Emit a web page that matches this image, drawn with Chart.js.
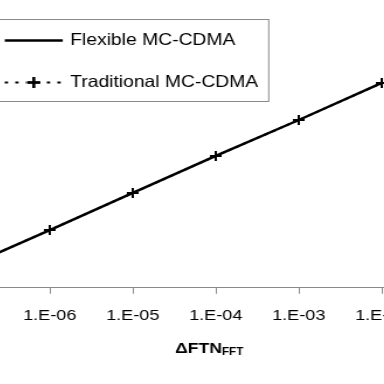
<!DOCTYPE html>
<html>
<head>
<meta charset="utf-8">
<script src="https://cdn.jsdelivr.net/npm/chart.js@4/dist/chart.umd.min.js"></script>
<style>
  html, body { margin: 0; padding: 0; background: #fff; overflow: hidden; width: 384px; height: 384px; }
  #wrap { position: absolute; left: -80px; top: 0; width: 506px; height: 384px; transform-origin: 0 0; }
</style>
</head>
<body>
<div id="wrap"><canvas id="c" width="506" height="384"></canvas></div>
<script>
// ---- data ----
const deltaFTN = [1e-7, 1e-6, 1e-5, 1e-4, 1e-3, 1e-2];
const flexibleMC = [0.57, 1.56, 2.56, 3.56, 4.53, 5.53];
const traditionalMC = [0.57, 1.56, 2.56, 3.56, 4.53, 5.53];
const tickValues = [1e-7, 1e-6, 1e-5, 1e-4, 1e-3, 1e-2, 1e-1];
const tickLabels = ['1.E-07', '1.E-06', '1.E-05', '1.E-04', '1.E-03', '1.E-02', '1.E-01'];
const seriesNames = ['Flexible MC-CDMA', 'Traditional MC-CDMA'];
const axisTitleMain = '\u0394FTN';
const axisTitleSub = 'FFT';

const FONT = "'Liberation Sans', Arial, Helvetica, sans-serif";

// page -> canvas conversion derived from the scale (page is a horizontally stretched crop)
function frame(chart) {
  const xs = chart.scales.x;
  const p7 = xs.getPixelForValue(1e-7), p2 = xs.getPixelForValue(1e-2);
  const s = (382 + 33) / (p2 - p7);
  const L = -33 - s * p7;
  return { s, L, cx: px => (px - L) / s };
}

const boxLegend = {
  id: 'boxLegend',
  afterDraw(chart) {
    const ctx = chart.ctx;
    const f = frame(chart);
    const left = f.cx(-25), right = f.cx(269);
    const top = 19.5, bottom = 101.5;
    ctx.save();
    ctx.fillStyle = '#fff';
    ctx.fillRect(left, top, right - left, bottom - top);
    ctx.strokeStyle = '#8a8a8a';
    ctx.lineWidth = 1;
    ctx.strokeRect(left, top, right - left, bottom - top);

    const x0 = f.cx(5), x1 = f.cx(63), xt = f.cx(70.5);
    const rows = [40.5, 82.5];
    const legendDash = [[], [2.8, 6.2]];
    chart.data.datasets.forEach((ds, i) => {
      const y = rows[i];
      ctx.strokeStyle = ds.borderColor;
      ctx.lineWidth = ds.borderWidth;
      ctx.setLineDash(legendDash[i]);
      ctx.beginPath();
      ctx.moveTo(x0, y);
      ctx.lineTo(x1, y);
      ctx.stroke();
      ctx.setLineDash([]);
      if (ds.pointRadius > 0) {
        const xm = (x0 + x1) / 2;
        ctx.fillStyle = '#fff';
        ctx.fillRect(xm - 6, y - 4, 12, 8);
        Chart.helpers.drawPoint(ctx, {
          pointStyle: ds.pointStyle, radius: ds.pointRadius + 0.5, borderWidth: ds.pointBorderWidth, rotation: 0
        }, xm, y);
        ctx.strokeStyle = ds.borderColor;
        ctx.lineWidth = ds.pointBorderWidth + 0.3;
        ctx.stroke();
      }
      ctx.fillStyle = '#000';
      ctx.font = '16.5px ' + FONT;
      ctx.textBaseline = 'middle';
      ctx.textAlign = 'left';
      ctx.fillText(ds.label, xt, y);
    });

    // x-axis title with subscript
    ctx.fillStyle = '#000';
    ctx.textBaseline = 'alphabetic';
    ctx.textAlign = 'left';
    const mainFont = 'bold 15px ' + FONT, subFont = 'bold 10px ' + FONT;
    ctx.font = mainFont;
    const w1 = ctx.measureText(axisTitleMain).width;
    ctx.font = subFont;
    const w2 = ctx.measureText(axisTitleSub).width;
    const cx = f.cx(209.5);
    const start = cx - (w1 + w2) / 2;
    ctx.font = mainFont;
    ctx.fillText(axisTitleMain, start, 353);
    ctx.font = subFont;
    ctx.fillText(axisTitleSub, start + w1, 355);
    ctx.restore();
  }
};

const chart = new Chart(document.getElementById('c'), {
  type: 'line',
  data: {
    labels: deltaFTN,
    datasets: [
      {
        label: seriesNames[0],
        data: deltaFTN.map((x, i) => ({ x, y: flexibleMC[i] })),
        borderColor: '#000', backgroundColor: '#000',
        borderWidth: 2.5, pointRadius: 0, tension: 0
      },
      {
        label: seriesNames[1],
        data: deltaFTN.map((x, i) => ({ x, y: traditionalMC[i] })),
        borderColor: '#000', backgroundColor: '#000',
        borderWidth: 2, borderDash: [3, 4],
        pointStyle: 'cross', pointRadius: 5, pointBorderWidth: 2,
        pointBorderColor: '#000', tension: 0
      }
    ]
  },
  options: {
    responsive: false,
    animation: false,
    events: [],
    layout: { padding: { left: 40, right: 40, top: 10, bottom: 45.6 } },
    plugins: { legend: { display: false }, tooltip: { enabled: false }, title: { display: false } },
    scales: {
      x: {
        type: 'logarithmic',
        min: 1e-7, max: 1e-1,
        afterBuildTicks: (scale) => { scale.ticks = tickValues.map(v => ({ value: v })); },
        ticks: {
          autoSkip: false, maxRotation: 0, padding: 13,
          color: '#000', font: { family: FONT, size: 15.5 },
          callback: (v) => { const i = tickValues.findIndex(t => Math.abs(Math.log10(t) - Math.log10(v)) < 1e-6); return i >= 0 ? tickLabels[i] : ''; }
        },
        grid: { drawOnChartArea: false, drawTicks: true, tickLength: 6, color: '#8a8a8a', lineWidth: 1 },
        border: { display: true, color: '#8a8a8a', width: 1 }
      },
      y: { type: 'linear', min: 0, max: 7.5, display: false }
    }
  },
  plugins: [boxLegend]
});

const f = frame(chart);
const wrap = document.getElementById('wrap');
wrap.style.left = f.L + 'px';
wrap.style.transform = 'scaleX(' + f.s + ')';
</script>
</body>
</html>
